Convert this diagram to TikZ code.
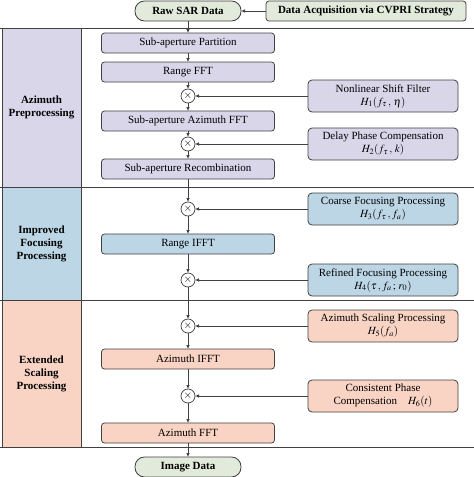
\documentclass[tikz,border=0pt]{standalone}
\usepackage{mathptmx}
\usepackage{fontspec}
\setmainfont{Liberation Serif}
\usetikzlibrary{positioning, arrows.meta}
\definecolor{purp}{HTML}{DAD6EA}
\definecolor{blu}{HTML}{BCD6E6}
\definecolor{salm}{HTML}{F9D4C4}
\definecolor{grn}{HTML}{E2EADB}
\definecolor{edge}{HTML}{404040}
\tikzset{
	every node/.append style={
		font={\fontsize{11}{13}\selectfont},
		outer sep=0pt,
	},
	step box/.style={
		draw=edge,
		line width=0.8pt,
		rounded corners=3pt,
		align=center,
		minimum width=173pt,
		minimum height=20pt,
		inner sep=1pt,
	},
	filt/.style={
		draw=edge,
		line width=0.8pt,
		rounded corners=4pt,
		align=center,
		minimum width=150pt,
		minimum height=32pt,
		inner sep=1pt,
	},
	terminal/.style={
		draw=edge,
		fill=grn,
		line width=0.8pt,
		rounded corners=9.5pt,
		minimum width=106pt,
		minimum height=20pt,
		inner sep=1pt,
		font={\fontsize{11}{13}\selectfont\bfseries},
	},
	mult/.style={
		draw=edge,
		fill=white,
		circle,
		line width=0.7pt,
		minimum size=14pt,
		inner sep=0pt,
	},
	panel/.style={
		draw=edge,
		line width=0.8pt,
		align=center,
		minimum width=79pt,
		inner sep=0pt,
		font={\fontsize{11}{13}\selectfont\bfseries},
	},
	arr/.style={
		-{Latex[length=4pt,width=3.5pt]},
		line width=0.7pt,
		draw=edge,
	},
}

\begin{document}
\begin{tikzpicture}[x=1pt, y=-1pt]
		\useasboundingbox (0,0) rectangle (474,477);
		
		% phase panels
		\node(azlbl)[panel, fill=purp, minimum height=159pt] at (41.5,107.5) {Azimuth\\Preprocessing};
		\node(folbl)[panel, fill=blu, minimum height=113pt] at (41.5,243.5) {Improved\\Focusing\\Processing};
		\node(sclbl)[panel, fill=salm, minimum height=147pt] at (41.5,373.5) {Extended\\Scaling\\Processing};
		\foreach \y in {28, 187, 300, 447}{
			\draw[edge, line width=0.8pt] (0,\y) -- (474,\y);
		};
		
		% main chain
		\node(raw)[terminal] at (188,11) {Raw SAR Data};
		\node(daq)[terminal, rounded corners=3pt, minimum width=200pt, right=25pt of raw] {Data Acquisition via CVPRI Strategy};
		\node(part)[step box, fill=purp, below=12pt of raw] {Sub-aperture Partition};
		\node(rfft)[step box, fill=purp, below=9pt of part] {Range FFT};
		\node(m1)[mult, below=7pt of rfft] {$\times$};
		\node(azfft)[step box, fill=purp, below=8pt of m1] {Sub-aperture Azimuth FFT};
		\node(m2)[mult, below=6pt of azfft] {$\times$};
		\node(recomb)[step box, fill=purp, below=8pt of m2] {Sub-aperture Recombination};
		\node(m3)[mult, below=23pt of recomb] {$\times$};
		\node(rifft)[step box, fill=blu, below=18pt of m3] {Range IFFT};
		\node(m4)[mult, below=19pt of rifft] {$\times$};
		\node(m5)[mult, below=32pt of m4] {$\times$};
		\node(aifft)[step box, fill=salm, below=16pt of m5] {Azimuth IFFT};
		\node(m6)[mult, below=20pt of aifft] {$\times$};
		\node(afft)[step box, fill=salm, below=20pt of m6] {Azimuth FFT};
		\node(img)[terminal, below=14pt of afft] {Image Data};
		
		% filters
		\node(h1)[filt, fill=purp, right=113pt of m1] {Nonlinear Shift Filter\\$H_1(f_\tau\,,\,\eta)$};
		\node(h2)[filt, fill=purp, right=113pt of m2] {Delay Phase Compensation\\$H_2(f_\tau\,,\,k)$};
		\node(h3)[filt, fill=blu, right=113pt of m3] {Coarse Focusing Processing\\$H_3(f_\tau\,,f_a)$};
		\node(h4)[filt, fill=blu, right=113pt of m4] {Refined Focusing Processing\\$H_4(\tau\,,f_a\,;\,r_0)$};
		\node(h5)[filt, fill=salm, right=113pt of m5] {Azimuth Scaling Processing\\$H_5(f_a)$};
		\node(h6)[filt, fill=salm, right=113pt of m6] {Consistent Phase\\Compensation\quad$H_6(t)$};
		
		\foreach \a/\b in {raw/part, part/rfft, rfft/m1, m1/azfft, azfft/m2, m2/recomb, recomb/m3, m3/rifft, rifft/m4, m4/m5, m5/aifft, aifft/m6, m6/afft, afft/img}{
			\draw[arr] (\a) -- (\b);
		};
		\foreach \f/\m in {h1/m1, h2/m2, h3/m3, h4/m4, h5/m5, h6/m6}{
			\draw[arr] (\f) -- (\m);
		};
		\draw[arr] (daq) -- (raw);
		
		\end{tikzpicture}
\end{document}
